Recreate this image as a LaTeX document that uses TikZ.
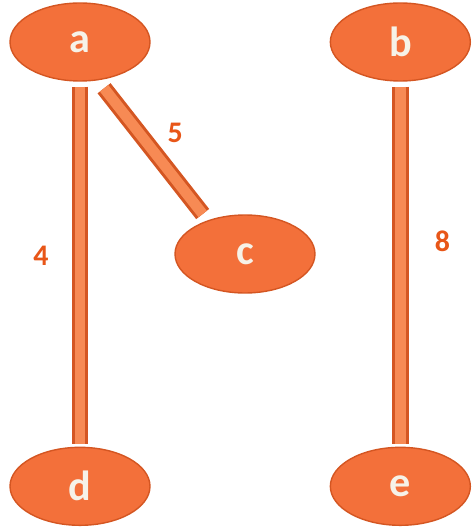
\documentclass[tikz,border=0pt]{standalone}
\usepackage{fontspec}
\setmainfont{Carlito}
\usetikzlibrary{shapes,arrows,calc,positioning}
\definecolor{nodeorange}{RGB}{243,112,58}
\definecolor{nodeedge}{RGB}{212,86,34}
\definecolor{barfill}{RGB}{247,138,84}
\definecolor{weightred}{RGB}{232,86,24}
\definecolor{lettercream}{RGB}{246,242,232}

\begin{document}
\begin{tikzpicture}[x=0.02cm, y=-0.02cm, auto]
        \tikzstyle{vertex} = [ellipse, draw=nodeedge, line width=0.8pt, fill=nodeorange,
        minimum width=2.8cm, minimum height=1.56cm, inner sep=0pt, text=lettercream,
        font=\fontsize{24}{24}\selectfont\bfseries]
        \tikzset{bar/.style={draw=nodeedge, line width=1.7pt, double=barfill, double distance=6pt}}
        \tikzset{weight/.style={text=weightred, inner sep=0pt, font=\fontsize{17}{17}\selectfont\bfseries}}

        \useasboundingbox (0,0) rectangle (474,530);

        \node [vertex] (a) at (80,42) {a};
        \node [vertex, right=3.58cm of a] (b) {b};
        \node [vertex] (c) at (245,254) {c};
        \node [vertex, below=7.3cm of a] (d) {d};
        \node [vertex, right=3.58cm of d] (e) {e};

        \path [bar, shorten <=0.1cm, shorten >=0.06cm] (a) -- node [weight, pos=0.477, left=0.6cm] {4} (d);
        \path [bar, shorten <=0.2cm, shorten >=0.16cm] (a.-65) -- node [weight, pos=0.5, above right=0.13cm and 0.27cm] {5} (c.138);
        \path [bar, shorten <=0.1cm, shorten >=0.06cm] (b) -- node [weight, pos=0.436, right=0.66cm] {8} (e);

    \end{tikzpicture}
\end{document}
